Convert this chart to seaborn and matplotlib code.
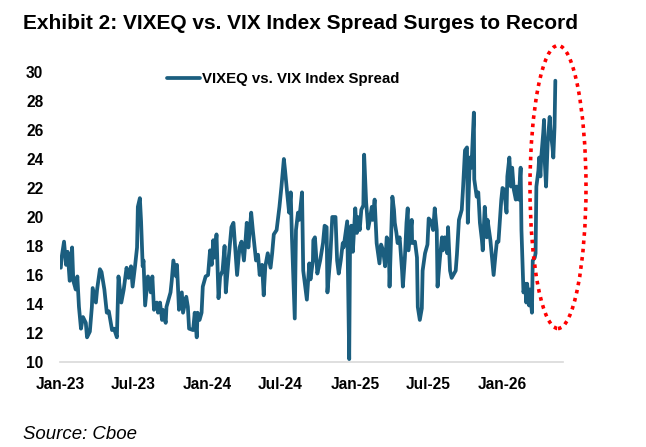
import matplotlib
matplotlib.use("Agg")
import matplotlib.pyplot as plt
import matplotlib.dates as mdates
from matplotlib.patches import Ellipse
import pandas as pd
import seaborn as sns

# VIXEQ minus VIX
dates = [
    "2023-01-03", "2023-01-05", "2023-01-11", "2023-01-16", "2023-01-20", "2023-01-25", "2023-01-31",
    "2023-02-03", "2023-02-09", "2023-02-13", "2023-02-17", "2023-02-22", "2023-02-27", "2023-03-06",
    "2023-03-09", "2023-03-16", "2023-03-21", "2023-03-23", "2023-03-31", "2023-04-03", "2023-04-10",
    "2023-04-14", "2023-04-21", "2023-04-27", "2023-05-02", "2023-05-10", "2023-05-15", "2023-05-22",
    "2023-05-26", "2023-06-02", "2023-06-08", "2023-06-15", "2023-06-20", "2023-06-26", "2023-06-30",
    "2023-07-06", "2023-07-11", "2023-07-13", "2023-07-18", "2023-07-21", "2023-07-25", "2023-07-27",
    "2023-07-31", "2023-08-07", "2023-08-14", "2023-08-18", "2023-08-22", "2023-08-29", "2023-09-01",
    "2023-09-06", "2023-09-11", "2023-09-13", "2023-09-20", "2023-09-22", "2023-10-02", "2023-10-05",
    "2023-10-09", "2023-10-16", "2023-10-18", "2023-10-23", "2023-10-30", "2023-11-02", "2023-11-10",
    "2023-11-14", "2023-11-17", "2023-11-27", "2023-12-01", "2023-12-06", "2023-12-08", "2023-12-13",
    "2023-12-18", "2023-12-21", "2023-12-28",
    "2024-01-03", "2024-01-08", "2024-01-12", "2024-01-16", "2024-01-19", "2024-01-24", "2024-01-29",
    "2024-02-02", "2024-02-08", "2024-02-13", "2024-02-16", "2024-02-22", "2024-03-01", "2024-03-06",
    "2024-03-15", "2024-03-21", "2024-03-26", "2024-04-01", "2024-04-05", "2024-04-08", "2024-04-12",
    "2024-04-19", "2024-04-23", "2024-05-01", "2024-05-06", "2024-05-10", "2024-05-16", "2024-05-20",
    "2024-05-24", "2024-05-30", "2024-06-06", "2024-06-10", "2024-06-14", "2024-06-21", "2024-06-25",
    "2024-06-28", "2024-07-03", "2024-07-09", "2024-07-12", "2024-07-17", "2024-07-22", "2024-07-26",
    "2024-07-29", "2024-08-05", "2024-08-08", "2024-08-13", "2024-08-16", "2024-08-23", "2024-08-26",
    "2024-09-04", "2024-09-10", "2024-09-13", "2024-09-19", "2024-09-20", "2024-09-24", "2024-09-30",
    "2024-10-07", "2024-10-14", "2024-10-18", "2024-10-23", "2024-10-25", "2024-11-01", "2024-11-06",
    "2024-11-14", "2024-11-18", "2024-11-22", "2024-11-27", "2024-12-02", "2024-12-04", "2024-12-13",
    "2024-12-18", "2024-12-20", "2024-12-23", "2024-12-27",
    "2025-01-02", "2025-01-06", "2025-01-08", "2025-01-13", "2025-01-17", "2025-01-22", "2025-01-24",
    "2025-01-29", "2025-02-03", "2025-02-07", "2025-02-12", "2025-02-14", "2025-02-19", "2025-02-24",
    "2025-03-03", "2025-03-07", "2025-03-12", "2025-03-17", "2025-03-21", "2025-03-26", "2025-03-28",
    "2025-04-04", "2025-04-08", "2025-04-10", "2025-04-14", "2025-04-17", "2025-04-22", "2025-04-28",
    "2025-04-30", "2025-05-05", "2025-05-09", "2025-05-12", "2025-05-14", "2025-05-22", "2025-05-23",
    "2025-05-30", "2025-06-04", "2025-06-06", "2025-06-11", "2025-06-16", "2025-06-18", "2025-06-24",
    "2025-06-30", "2025-07-03", "2025-07-09", "2025-07-14", "2025-07-18", "2025-07-23", "2025-07-25",
    "2025-07-31", "2025-08-05", "2025-08-07", "2025-08-12", "2025-08-18", "2025-08-20", "2025-08-25",
    "2025-08-29", "2025-09-08", "2025-09-11", "2025-09-16", "2025-09-23", "2025-09-26", "2025-10-01",
    "2025-10-06", "2025-10-08", "2025-10-13", "2025-10-17", "2025-10-23", "2025-10-24", "2025-10-30",
    "2025-11-03", "2025-11-07", "2025-11-12", "2025-11-14", "2025-11-19", "2025-11-24", "2025-11-26",
    "2025-12-03", "2025-12-09", "2025-12-11", "2025-12-16", "2025-12-19", "2025-12-23", "2025-12-30",
    "2026-01-02", "2026-01-06", "2026-01-12", "2026-01-14", "2026-01-19", "2026-01-23", "2026-01-26",
    "2026-01-30", "2026-02-04", "2026-02-06", "2026-02-11", "2026-02-16", "2026-02-18", "2026-02-23",
    "2026-02-27", "2026-03-02", "2026-03-04", "2026-03-09", "2026-03-11", "2026-03-16", "2026-03-18",
    "2026-03-23", "2026-03-25", "2026-03-27", "2026-04-01", "2026-04-03", "2026-04-06", "2026-04-08",
    "2026-04-13", "2026-04-15", "2026-04-17", "2026-04-20", "2026-04-24", "2026-04-29", "2026-05-01",
    "2026-05-06", "2026-05-08", "2026-05-11", "2026-05-13",
]
spread = [
    16.5, 17.2, 18.3, 16.7, 17.6, 15.6, 17.9,
    15.6, 15.0, 15.9, 13.8, 12.3, 13.1, 12.7,
    11.7, 12.1, 13.8, 15.1, 14.1, 15.0, 16.4,
    16.2, 15.0, 13.4, 13.5, 12.2, 12.3, 11.7,
    15.9, 14.1, 15.0, 16.5, 15.8, 16.6, 15.2,
    16.6, 17.9, 20.7, 21.3, 19.7, 16.6, 17.0,
    13.9, 15.9, 14.8, 15.9, 13.6, 14.1, 13.4,
    14.1, 12.9, 13.6, 12.7, 13.8, 14.8, 15.6,
    17.0, 15.9, 16.7, 13.6, 14.8, 13.4, 14.5,
    13.8, 12.3, 12.2, 13.4, 11.7, 13.4, 12.9,
    13.4, 15.2, 15.9,
    16.0, 17.7, 16.7, 18.4, 17.2, 18.8, 14.4,
    15.9, 16.3, 18.0, 14.8, 16.8, 19.3, 19.6,
    16.0, 17.9, 18.3, 17.0, 18.4, 19.6, 17.9,
    20.3, 19.1, 17.0, 17.4, 16.0, 16.7, 14.6,
    16.6, 17.5, 16.5, 17.5, 18.8, 19.1, 20.0,
    20.7, 22.1, 24.0, 23.2, 21.7, 20.3, 21.7,
    18.6, 13.0, 19.1, 20.3, 19.8, 21.7, 16.3,
    14.3, 16.8, 15.7, 17.0, 18.4, 18.6, 16.1,
    17.0, 18.2, 19.4, 19.3, 14.8, 17.2, 20.0,
    20.0, 17.0, 16.1, 17.0, 18.2, 17.9, 19.7,
    10.2, 17.9, 19.4, 17.6,
    20.6, 18.9, 20.0, 19.1, 20.5, 20.8, 24.3,
    21.0, 19.2, 19.8, 20.7, 19.8, 21.2, 18.2,
    16.8, 18.1, 17.7, 16.6, 18.6, 18.2, 15.2,
    21.4, 20.5, 19.6, 18.9, 18.2, 18.6, 16.3,
    15.2, 17.2, 19.6, 20.6, 17.7, 19.8, 18.2,
    18.3, 17.2, 13.8, 12.9, 13.7, 16.3, 17.5,
    18.1, 19.9, 19.7, 19.1, 20.6, 19.1, 15.2,
    17.2, 18.6, 17.7, 18.6, 17.5, 19.3, 16.3,
    15.8, 16.3, 17.4, 19.8, 20.5, 21.9, 24.6,
    24.8, 19.6, 24.1, 23.4, 27.2, 22.6, 21.4,
    21.7, 19.6, 18.4, 17.7, 20.7, 18.6, 19.8,
    18.4, 16.6, 16.0, 17.5, 18.3, 18.3, 21.2,
    22.0, 21.9, 20.3, 22.8, 24.1, 22.1, 23.4,
    21.9, 21.2, 22.1, 21.2, 23.4, 19.1, 14.8,
    15.4, 14.1, 15.4, 13.9, 15.0, 13.4, 17.0,
    17.2, 17.5, 22.1, 23.2, 24.1, 22.8, 24.1,
    25.8, 26.7, 23.7, 22.1, 25.1, 26.9, 26.0,
    24.8, 24.1, 26.2, 29.4,
]
series_name = "VIXEQ vs. VIX Index Spread"
y_ticks = list(range(10, 31, 2))

df = pd.DataFrame({"Date": pd.to_datetime(dates), "Spread": spread})

sns.set_theme(style="white")
plt.rcParams["font.family"] = ["Liberation Sans", "DejaVu Sans"]
plt.rcParams["text.color"] = "black"

W, H = 646, 447
fig = plt.figure(figsize=(W / 100, H / 100), dpi=100)
ax = fig.add_axes([60 / W, 1 - 362 / H, (563 - 60) / W, (362 - 72) / H])

sns.lineplot(data=df, x="Date", y="Spread", ax=ax, color="#1B5E7F",
             linewidth=2.7, label=series_name)

ax.set_ylim(10, 30)
ax.set_yticks(y_ticks)
ax.set_xlim(pd.Timestamp("2023-01-01"), pd.Timestamp("2026-06-01"))
ax.xaxis.set_major_locator(mdates.MonthLocator(bymonth=[1, 7]))
ax.xaxis.set_major_formatter(mdates.DateFormatter("%b-%y"))
ax.set_xlabel("")
ax.set_ylabel("")

for side in ["top", "right", "left"]:
    ax.spines[side].set_visible(False)
ax.spines["bottom"].set_color("#d9d9d9")
ax.spines["bottom"].set_linewidth(1.2)
ax.tick_params(axis="x", length=5, width=1, color="#d9d9d9", direction="out",
               pad=6, labelsize=11.2, labelcolor="black")
ax.tick_params(axis="y", length=0, pad=12, labelsize=11.2, labelcolor="black")
for lab in ax.get_xticklabels() + ax.get_yticklabels():
    lab.set_fontweight("bold")

ax.legend(loc="center left", bbox_to_anchor=(167 / W, 1 - 79 / H),
          bbox_transform=fig.transFigure, frameon=False, borderpad=0,
          borderaxespad=0, handlelength=2.2, handletextpad=0.15,
          prop={"weight": "bold", "size": 10.8})

fig.text(23 / W, 1 - 29 / H, "Exhibit 2: VIXEQ vs. VIX Index Spread Surges to Record",
         fontsize=15, fontweight="bold", va="baseline", ha="left", color="black")
fig.text(23 / W, 1 - 439 / H, "Source: Cboe", fontsize=13.4, fontstyle="italic",
         va="baseline", ha="left", color="black")

# red dotted ellipse around the latest surge
fig.add_artist(Ellipse((558 / W, 1 - 187 / H), 56 / W, 283 / H,
                       transform=fig.transFigure, fill=False, edgecolor="#FF0000",
                       linewidth=2.6, linestyle=(0, (1, 1.3)), clip_on=False))

fig.savefig("out.png", dpi=100)
